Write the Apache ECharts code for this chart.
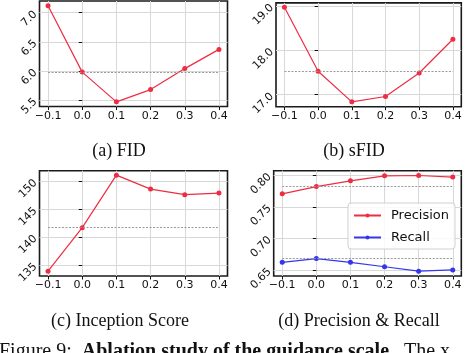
<!DOCTYPE html>
<html>
<head>
<meta charset="utf-8">
<script src="https://cdn.jsdelivr.net/npm/echarts@6/dist/echarts.min.js"></script>
<style>
  html, body { margin: 0; padding: 0; background: #fff; }
  #chart { width: 474px; height: 353px; }
</style>
</head>
<body>
<div id="chart"></div>
<script>
// guidance scale values on the x axis
const scales = [-0.1, 0.0, 0.1, 0.2, 0.3, 0.4];

const fid = [7.12, 5.98, 5.47, 5.68, 6.04, 6.37];
const sfid = [18.97, 17.53, 16.84, 16.96, 17.49, 18.25];
const inception = [133.9, 141.7, 151.1, 148.6, 147.6, 147.9];
const precision = [0.7705, 0.782, 0.791, 0.799, 0.7995, 0.797];
const recall = [0.662, 0.668, 0.662, 0.655, 0.648, 0.650];

// dotted baseline levels
const fidBase = 5.98;
const sfidBase = 17.53;
const inceptionBase = 141.7;
const precisionBase = 0.782;
const recallBase = 0.668;

const fidTicks = [5.5, 6.0, 6.5, 7.0];
const sfidTicks = [17.0, 18.0, 19.0];
const inceptionTicks = [135, 140, 145, 150];
const prTicks = [0.65, 0.70, 0.75, 0.80];

const captions = ['(a) FID', '(b) sFID', '(c) Inception Score', '(d) Precision & Recall'];

const RED = '#ee2d42';
const BLUE = '#3535ee';

const grids = [
  { left: 39.5, top: 1, width: 188, height: 105.5 },
  { left: 276, top: 2.7, width: 185.3, height: 104 },
  { left: 39.5, top: 170.7, width: 188, height: 105.3 },
  { left: 273.7, top: 170.7, width: 187.6, height: 105.3 }
];

function xAxisFor(i) {
  return {
    type: 'value', gridIndex: i, min: -0.125, max: 0.425,
    axisLine: { show: false },
    axisTick: { show: true, customValues: scales, length: 3.5, lineStyle: { color: '#111' } },
    axisLabel: {
      customValues: scales, color: '#111', fontSize: 11, fontFamily: 'DejaVu Sans', margin: 4,
      formatter: v => v.toFixed(1).replace('-', '\u2212')
    },
    splitLine: { show: true, lineStyle: { color: '#d8d8d8', width: 1 } }
  };
}

function yAxisFor(i, min, max, ticks, digits) {
  return {
    type: 'value', gridIndex: i, min, max,
    axisLine: { show: false },
    axisTick: { show: true, customValues: ticks, length: 3.5, lineStyle: { color: '#111' } },
    axisLabel: {
      customValues: ticks, color: '#111', fontSize: 11, fontFamily: 'DejaVu Sans', rotate: 45, margin: 4,
      formatter: v => v.toFixed(digits)
    },
    splitLine: { show: true, lineStyle: { color: '#d8d8d8', width: 1 } }
  };
}

function pairs(vals) {
  return scales.map((x, k) => [x, vals[k]]);
}

function baseLine(v) {
  return {
    silent: true, symbol: 'none', label: { show: false },
    lineStyle: { color: '#999', type: [2, 1.5], width: 1 },
    data: [[{ coord: [-0.1, v] }, { coord: [0.4, v] }]]
  };
}

function lineSeries(name, i, vals, color, base) {
  return {
    name, type: 'line', xAxisIndex: i, yAxisIndex: i,
    data: pairs(vals), symbol: 'circle', symbolSize: 5,
    itemStyle: { color }, lineStyle: { color, width: 1.2 },
    markLine: baseLine(base), animation: false
  };
}

const chart = echarts.init(document.getElementById('chart'));

const capPos = [[119, 142], [354, 142], [120, 312], [359, 312]];

chart.setOption({
  animation: false,
  grid: grids.map(g => Object.assign({ show: true, borderColor: '#1a1a1a', borderWidth: 1.6, backgroundColor: 'transparent' }, g)),
  xAxis: [0, 1, 2, 3].map(xAxisFor),
  yAxis: [
    yAxisFor(0, 5.39, 7.20, fidTicks, 1),
    yAxisFor(1, 16.73, 19.07, sfidTicks, 1),
    yAxisFor(2, 133.04, 151.9, inceptionTicks, 0),
    yAxisFor(3, 0.6404, 0.8071, prTicks, 2)
  ],
  legend: {
    data: ['Precision', 'Recall'],
    orient: 'vertical', left: 348, top: 203,
    itemWidth: 27, itemHeight: 5, itemGap: 9,
    padding: [6, 6, 5, 5],
    borderColor: '#d0d0d0', borderWidth: 1, borderRadius: 3,
    backgroundColor: 'rgba(255,255,255,0.85)',
    textStyle: { fontSize: 13, fontFamily: 'DejaVu Sans', color: '#111', padding: [0, 0, 0, 5] }
  },
  series: [
    lineSeries('FID', 0, fid, RED, fidBase),
    lineSeries('sFID', 1, sfid, RED, sfidBase),
    lineSeries('IS', 2, inception, RED, inceptionBase),
    lineSeries('Precision', 3, precision, RED, precisionBase),
    lineSeries('Recall', 3, recall, BLUE, recallBase)
  ],
  graphic: captions.map((c, k) => ({
    type: 'text', x: capPos[k][0], y: capPos[k][1],
    style: { text: c, fontSize: 18, fontFamily: 'Liberation Serif', fill: '#111', align: 'center', verticalAlign: 'top' }
  })).concat([{
    type: 'text', x: -1, y: 342,
    style: {
      text: '{n|Figure 9:  }{b|Ablation study of the guidance scale.}{n|  The x}',
      fill: '#111', verticalAlign: 'top',
      rich: {
        n: { fontSize: 20, fontFamily: 'Liberation Serif', fill: '#111' },
        b: { fontSize: 20, fontFamily: 'Liberation Serif', fontWeight: 'bold', fill: '#111' }
      }
    }
  }])
});
</script>
</body>
</html>
